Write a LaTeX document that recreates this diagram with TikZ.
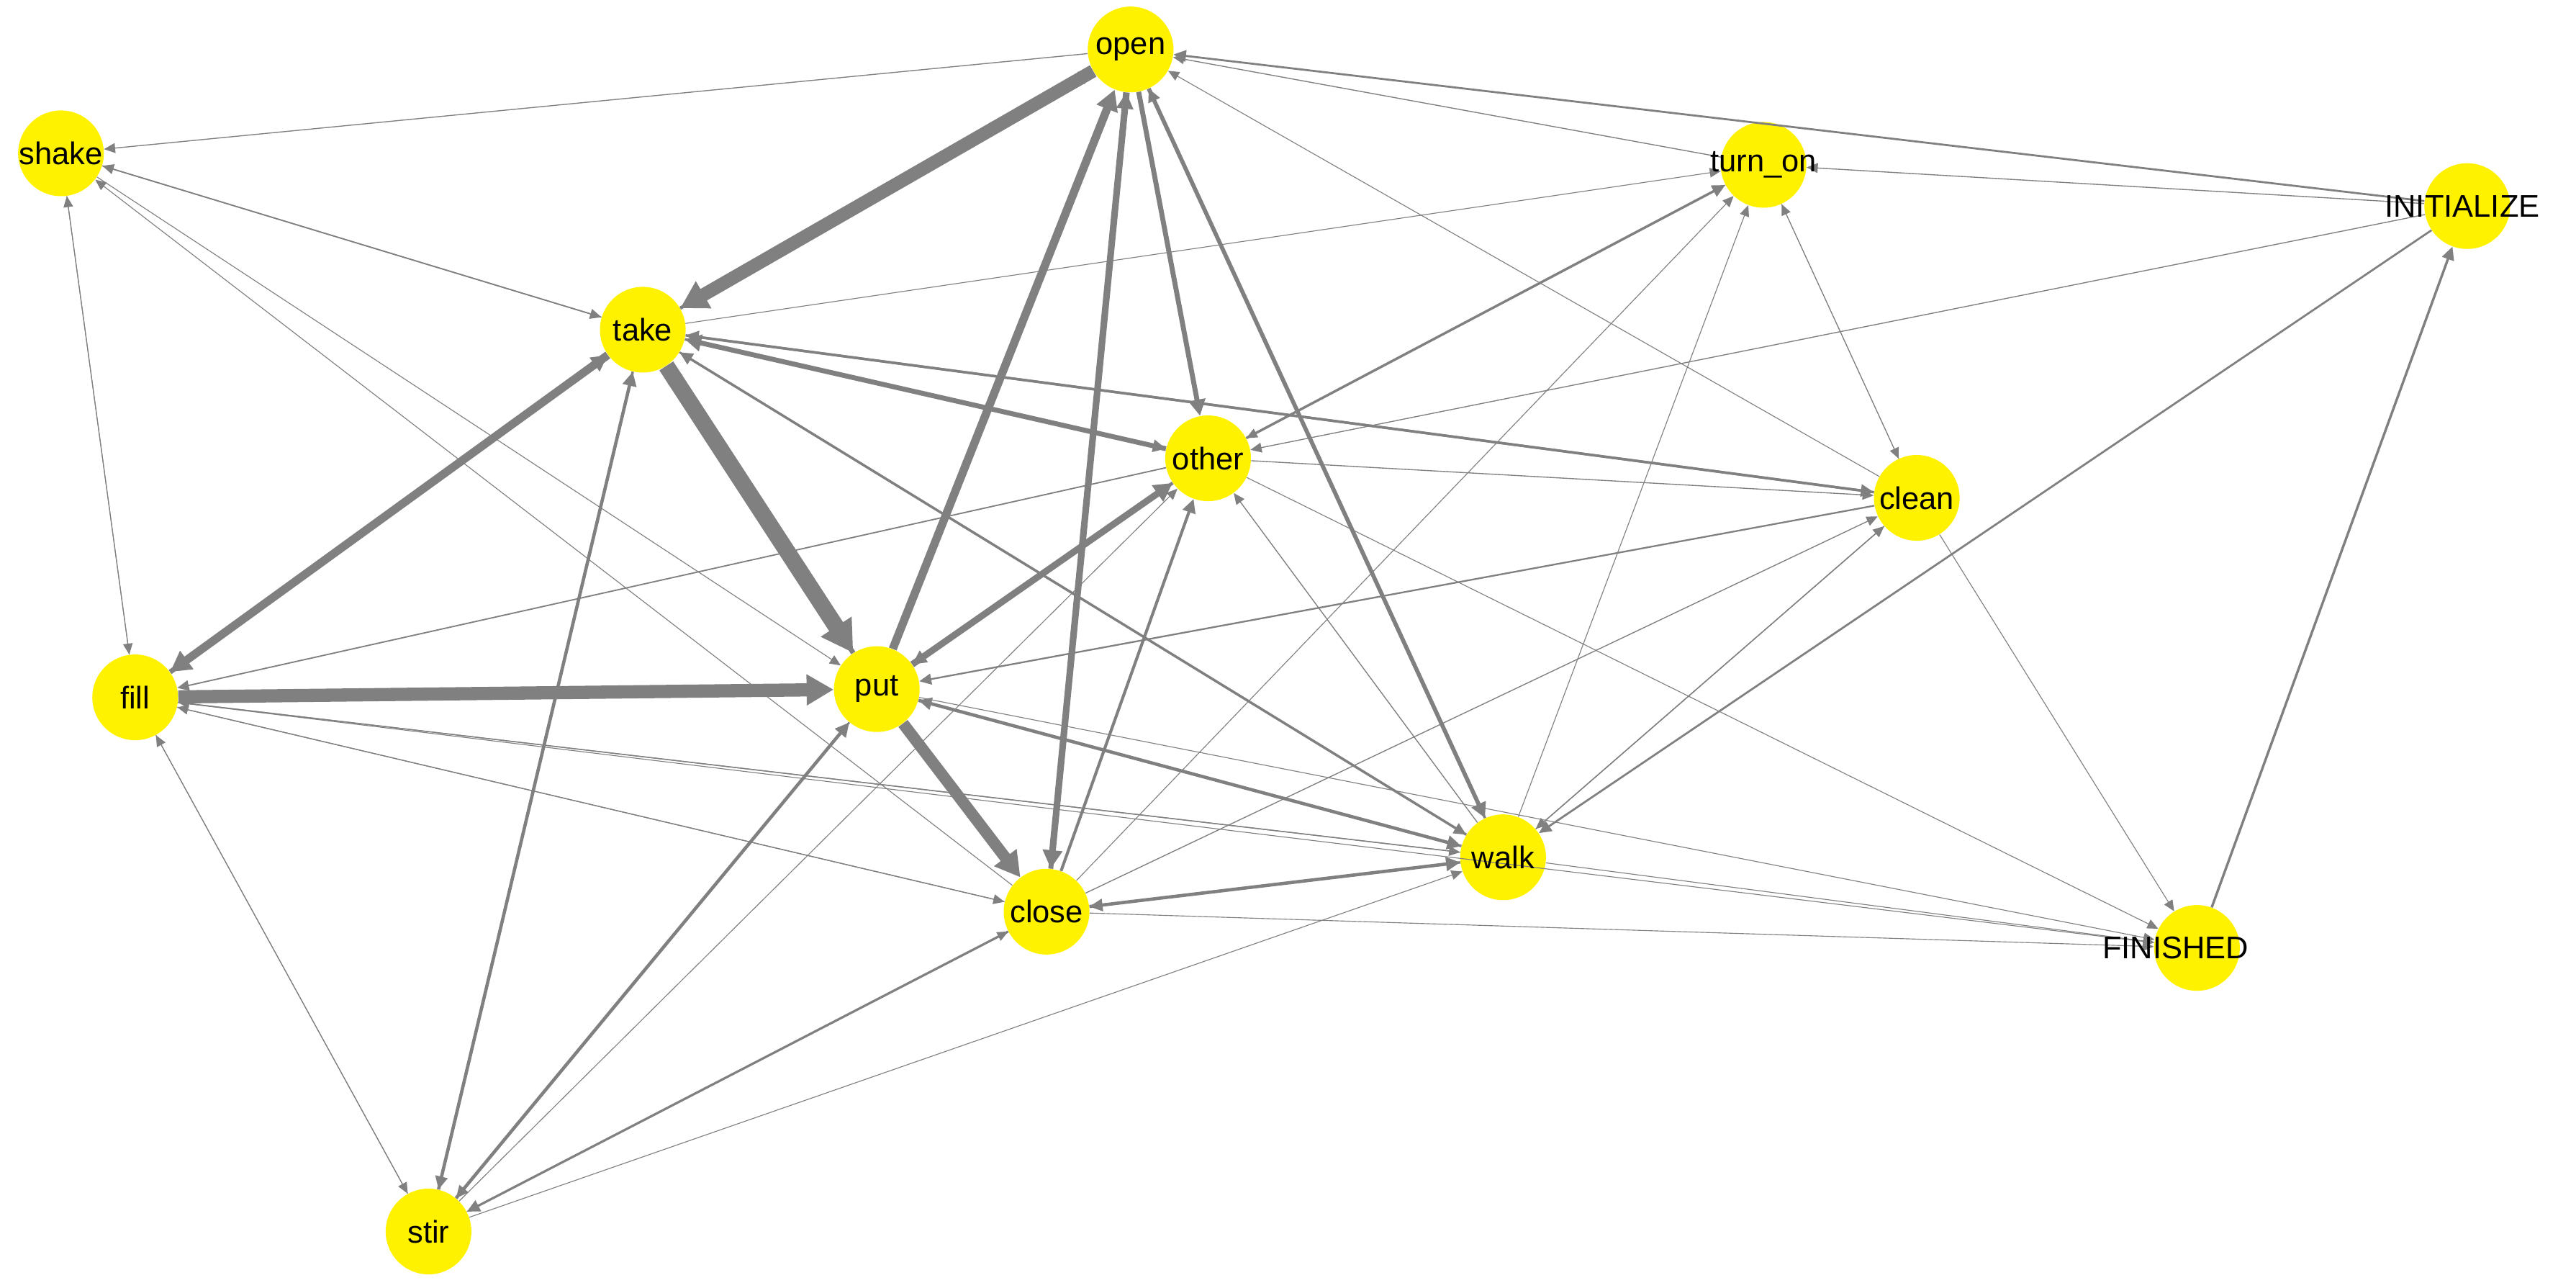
\documentclass[tikz,border=0pt]{standalone}
\usepackage{fontspec}
\setmainfont{Liberation Sans}
\usetikzlibrary{arrows.meta}
\begin{document}
\begin{tikzpicture}[x=1pt,y=-1pt,
  vtx/.style={circle,fill=yellow,minimum size=52pt,inner sep=0pt},
  lbl/.style={font=\fontsize{19pt}{21pt}\selectfont,inner sep=0pt},
  e/.style={draw=gray,line width=#1,-{Triangle[length=6pt 1.3,width=5pt 1.6]}},
  e/.default=0.6pt]
\useasboundingbox (0,0) rectangle (1563,781);
\foreach \n/\x/\y in {open/686/30,shake/37/93,turn_on/1070/100,INITIALIZE/1497/125,
  take/390/200,other/733/278,clean/1163/302,fill/82/423,put/532/418,walk/912/520,
  close/635/553,FINISHED/1333/575,stir/260/747}
  \node[vtx] (\n) at (\x,\y) {};
% thick edges
\draw[e=8pt] (open) -- (take);
\draw[e=2pt] (take) -- (open);
\draw[e=10pt] (take) -- (put);
\draw[e=3pt] (put) -- (take);
\draw[e=8pt] (fill) -- (put);
\draw[e=5pt] (take) -- (fill);
\draw[e=3pt] (fill) -- (take);
\draw[e=7pt] (put) -- (close);
\draw[e=5pt] (put) -- (open);
\draw[e=4pt] (open) -- (close);
\draw[e=3pt] (close) -- (open);
\draw[e=3pt] (open) -- (other);
\draw[e=3pt] (other) -- (take);
\draw[e=1.5pt] (take) -- (other);
\draw[e=2.5pt] (open) -- (walk);
\draw[e=1.5pt] (walk) -- (open);
\draw[e=4pt] (put) -- (other);
\draw[e=2pt] (other) -- (put);
\draw[e=2pt] (put) -- (walk);
\draw[e=1.5pt] (walk) -- (put);
\draw[e=2pt] (close) -- (walk);
\draw[e=1.5pt] (walk) -- (close);
\draw[e=1.8pt] (close) -- (other);
\draw[e=2pt] (stir) -- (take);
\draw[e=1.5pt] (take) -- (stir);
\draw[e=2pt] (stir) -- (put);
\draw[e=1.2pt] (put) -- (stir);
\draw[e=1.4pt] (close) -- (stir);
\draw[e=0.5pt] (stir) -- (close);
\draw[e=1.5pt] (walk) -- (take);
\draw[e=1.2pt] (take) -- (walk);
\draw[e=1.5pt] (take) -- (clean);
\draw[e=1.5pt] (clean) -- (take);
\draw[e=1.5pt] (FINISHED) -- (INITIALIZE);
\draw[e=1.2pt] (INITIALIZE) -- (walk);
\draw[e=1.2pt] (INITIALIZE) -- (open);
\draw[e=1.5pt] (other) -- (turn_on);
\draw[e=1pt] (clean) -- (put);
\draw[e=0.8pt] (other) -- (fill);
% thin edges
\draw[e] (INITIALIZE) -- (turn_on);
\draw[e] (INITIALIZE) -- (other);
\draw[e] (turn_on) -- (open);
\draw[e=0.5pt] (clean) -- (open);
\draw[e=0.5pt] (clean) -- (turn_on);
\draw[e=0.4pt] (turn_on) -- (clean);
\draw[e=0.5pt] (clean) -- (FINISHED);
\draw[e=0.5pt] (walk) -- (FINISHED);
\draw[e=0.5pt] (close) -- (FINISHED);
\draw[e=0.5pt] (put) -- (FINISHED);
\draw[e=0.5pt] (other) -- (FINISHED);
\draw[e] (other) -- (clean);
\draw[e] (open) -- (shake);
\draw[e=0.7pt] (take) -- (shake);
\draw[e=0.7pt] (shake) -- (take);
\draw[e=0.5pt] (shake) -- (fill);
\draw[e=0.5pt] (fill) -- (shake);
\draw[e=0.5pt] (close) -- (shake);
\draw[e=0.5pt] (shake) -- (put);
\draw[e=0.6pt] (fill) -- (walk);
\draw[e=0.6pt] (walk) -- (fill);
\draw[e=0.6pt] (fill) -- (close);
\draw[e=0.5pt] (close) -- (fill);
\draw[e=0.5pt] (fill) -- (stir);
\draw[e=0.5pt] (stir) -- (fill);
\draw[e=0.5pt] (stir) -- (walk);
\draw[e=0.5pt] (walk) -- (turn_on);
\draw[e=0.6pt] (walk) -- (clean);
\draw[e=0.6pt] (clean) -- (walk);
\draw[e=0.6pt] (close) -- (clean);
\draw[e=0.5pt] (close) -- (turn_on);
\draw[e=0.6pt] (walk) -- (other);
\draw[e=0.5pt] (take) -- (turn_on);
\draw[e=0.5pt] (turn_on) -- (other);
\draw[e=0.5pt] (stir) -- (other);
\draw[e=0.5pt] (fill) -- (FINISHED);
% labels
\foreach \n/\t/\dx in {open/open/0,shake/shake/0,turn_on/turn\_on/0,INITIALIZE/INITIALIZE/-3,
  take/take/0,other/other/0,clean/clean/0,fill/fill/0,put/put/0,walk/walk/0,
  close/close/0,FINISHED/FINISHED/-13,stir/stir/0}
  \node[lbl] at ([xshift=\dx pt]\n.center) {\t};
\end{tikzpicture}
\end{document}
